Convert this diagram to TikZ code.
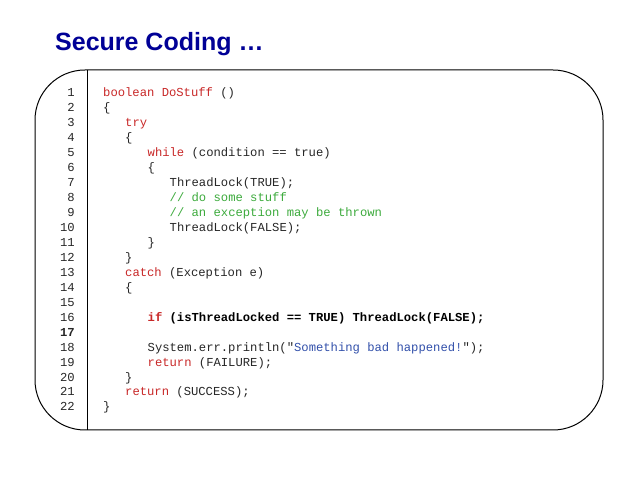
\documentclass[tikz,border=0pt]{standalone}
\usepackage{fontspec}
\setmainfont{Liberation Sans}
\newfontfamily\codefont{Liberation Mono}
\definecolor{kw}{RGB}{200,40,40}
\definecolor{cm}{RGB}{60,170,60}
\definecolor{st}{RGB}{50,80,170}
\definecolor{ttl}{RGB}{0,0,150}
\newcommand{\K}[1]{\textcolor{kw}{#1}}
\newcommand{\C}[1]{\textcolor{cm}{#1}}
\newcommand{\Sq}[1]{\textcolor{st}{#1}}
\begin{document}
\begin{tikzpicture}[x=1pt,y=-1pt,
  code/.style={anchor=base west,inner sep=0pt,font=\codefont\fontsize{12.2}{14}\selectfont,text=black!85},
  num/.style={anchor=base east,inner sep=0pt,font=\codefont\fontsize{12.2}{14}\selectfont,text=black!85}]
\useasboundingbox (0,0) rectangle (638,478);
\node[anchor=base west,inner sep=0pt,text=ttl,font=\bfseries\fontsize{25}{28}\selectfont] (title) at (55,51) {Secure Coding …};
\draw[line width=1pt,rounded corners=50pt] (35,70) rectangle (603,430);
\coordinate (vt) at (87,70);
\coordinate (vb) at (87,430);
\draw[line width=1pt] (vt) -- (vb);
\foreach \i in {1,...,22}{
  \ifnum\i=17
    \node[num] (n\i) at (75,{97+(\i-1)*14.95}) {\bfseries\i};
  \else
    \node[num] (n\i) at (75,{97+(\i-1)*14.95}) {\i};
  \fi
}
\node[code] (c1) at (103,97) {\K{boolean DoStuff} ()};
\node[code] (c2) at (103,{97+1*14.95}) {\{};
\node[code] (c3) at (125,{97+2*14.95}) {\K{try}};
\node[code] (c4) at (125,{97+3*14.95}) {\{};
\node[code] (c5) at (147.5,{97+4*14.95}) {\K{while} (condition == true)};
\node[code] (c6) at (147.5,{97+5*14.95}) {\{};
\node[code] (c7) at (169.5,{97+6*14.95}) {ThreadLock(TRUE);};
\node[code] (c8) at (169.5,{97+7*14.95}) {\C{// do some stuff}};
\node[code] (c9) at (169.5,{97+8*14.95}) {\C{// an exception may be thrown}};
\node[code] (c10) at (169.5,{97+9*14.95}) {ThreadLock(FALSE);};
\node[code] (c11) at (147.5,{97+10*14.95}) {\}};
\node[code] (c12) at (125,{97+11*14.95}) {\}};
\node[code] (c13) at (125,{97+12*14.95}) {\K{catch} (Exception e)};
\node[code] (c14) at (125,{97+13*14.95}) {\{};
\node[code] (c16) at (147.5,{97+15*14.95}) {\bfseries\K{if} \textcolor{black}{(isThreadLocked == TRUE) ThreadLock(FALSE);}};
\node[code] (c18) at (147.5,{97+17*14.95}) {System.err.println("\Sq{Something bad happened!}");};
\node[code] (c19) at (147.5,{97+18*14.95}) {\K{return} (FAILURE);};
\node[code] (c20) at (125,{97+19*14.95}) {\}};
\node[code] (c21) at (125,{97+20*14.95}) {\K{return} (SUCCESS);};
\node[code] (c22) at (103,{97+21*14.95}) {\}};
\end{tikzpicture}
\end{document}
